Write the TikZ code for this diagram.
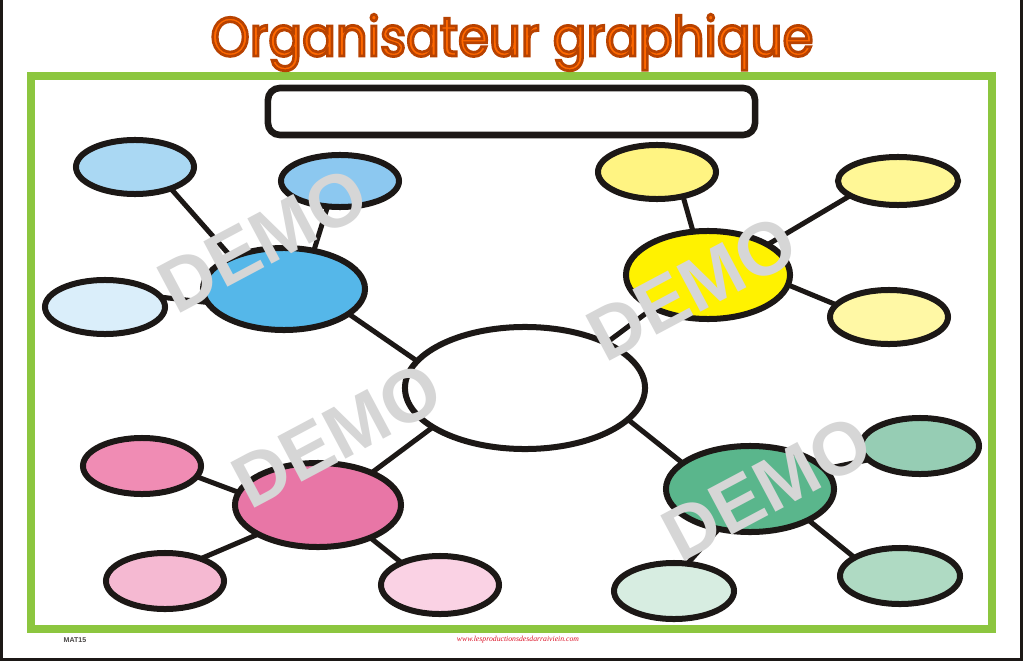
\documentclass[tikz,border=0pt]{standalone}
\usepackage{fontspec}
\usetikzlibrary{shapes.geometric,backgrounds}
\newfontfamily\titlefont{Poppins}
\newfontfamily\wmfont{Liberation Sans}
\newfontfamily\smallserif{Liberation Serif}
\definecolor{ink}{RGB}{28,24,22}
\definecolor{framegreen}{RGB}{140,198,63}
\definecolor{titleorange}{RGB}{255,104,0}
\definecolor{wmgray}{RGB}{214,214,214}
\definecolor{urlred}{RGB}{220,20,40}
\definecolor{bluemain}{RGB}{85,183,233}
\definecolor{blueA}{RGB}{170,216,243}
\definecolor{blueB}{RGB}{140,200,240}
\definecolor{blueC}{RGB}{218,238,250}
\definecolor{yelmain}{RGB}{255,242,0}
\definecolor{yelA}{RGB}{255,244,130}
\definecolor{yelB}{RGB}{255,247,150}
\definecolor{yelC}{RGB}{255,248,165}
\definecolor{pinkmain}{RGB}{232,118,166}
\definecolor{pinkA}{RGB}{240,140,180}
\definecolor{pinkB}{RGB}{245,185,210}
\definecolor{pinkC}{RGB}{250,210,228}
\definecolor{grnmain}{RGB}{90,182,140}
\definecolor{grnA}{RGB}{150,205,180}
\definecolor{grnB}{RGB}{175,218,195}
\definecolor{grnC}{RGB}{215,237,225}
\tikzset{
  bub/.style n args={3}{ellipse, draw=ink, line width=0.15cm, fill=#1,
    minimum width=#2*0.05cm, minimum height=#3*0.05cm, inner sep=0pt, outer sep=0pt},
  link/.style={draw=ink, line width=0.125cm},
  wm/.style={text=wmgray, font=\wmfont\bfseries\fontsize{53}{53}\selectfont, rotate=28, inner sep=0pt},
}
\begin{document}
\begin{tikzpicture}[x=0.025cm,y=-0.025cm]
\useasboundingbox (0,0) rectangle (1024,663);
% outer border
\draw[ink, line width=0.075cm] (1.5,0) -- (1.5,659.5) -- (1021,659.5) -- (1021,0);
% green frame
\draw[framegreen, line width=0.19cm] (31,76) rectangle (992,629);
% title
\node[anchor=base, text=titleorange, inner sep=0pt] (title) at (512,56)
  {\scalebox{0.91}[1]{\titlefont\fontsize{39}{39}\selectfont\special{pdf:literal direct 2 Tr 0.72 0.26 0 RG 2 w}Organisateur graphique\special{pdf:literal direct 0 Tr}}};
% top box
\node[draw=ink, fill=white, rounded corners=0.3cm, line width=0.165cm,
  minimum width=12.175cm, minimum height=1.175cm, inner sep=0pt] (topbox) at (511.5,111.5) {};
% central
\node[bub={white}{120}{61}] (c) at (525,388) {};
% blue
\node[bub={bluemain}{81}{41}] (bm) at (284,289) {};
\node[bub={blueA}{59}{27}] (btl) at (135,167) {};
\node[bub={blueB}{59}{26}] (btr) at (340,181) {};
\node[bub={blueC}{60}{27}] (bl) at (105,307) {};
% yellow
\node[bub={yelmain}{82}{44}] (ym) at (708,275) {};
\node[bub={yelA}{59}{27}] (ytl) at (657,172) {};
\node[bub={yelB}{60}{24}] (ytr) at (898,181) {};
\node[bub={yelC}{59}{27}] (ybr) at (889,317) {};
% pink
\node[bub={pinkmain}{83}{42}] (pm) at (318,505) {};
\node[bub={pinkA}{59}{28}] (ptl) at (142,466) {};
\node[bub={pinkB}{59}{28}] (pbl) at (165,581) {};
\node[bub={pinkC}{59}{29}] (pbr) at (440,585) {};
% green
\node[bub={grnmain}{84}{43}] (gm) at (750,489) {};
\node[bub={grnA}{59}{28}] (gtr) at (920,446) {};
\node[bub={grnB}{60}{28}] (gbr) at (900,576) {};
\node[bub={grnC}{60}{28}] (gbl) at (674,591) {};
% connectors
\begin{scope}[on background layer]
\fill[white] (0,0) rectangle (1024,663);
\draw[link] (btl.-31) -- (bm.149);
\draw[link] (btr.244) -- (bm.52);
\draw[link] (bl.10) -- (bm.190);
\draw[link] (bm.-21) -- (c.166);
\draw[link] (ytl.-43) -- (ym.109);
\draw[link] (ytr.197) -- (ym.27);
\draw[link] (ym.-7) -- (ybr.167);
\draw[link] (ym.211) -- (c.29);
\draw[link] (ptl.-11) -- (pm.171);
\draw[link] (pbl.32) -- (pm.206);
\draw[link] (pm.-32) -- (pbr.150);
\draw[link] (pm.31) -- (c.203);
\draw[link] (c.-17) -- (gm.159);
\draw[link] (gm.15) -- (gtr.195);
\draw[link] (gm.-28) -- (gbr.158);
\draw[link] (gm.232) -- (gbl.64);
\end{scope}
% watermarks
\node[wm] (wm1) at (263,240) {DEMO};
\node[wm] (wm2) at (692,288) {DEMO};
\node[wm] (wm3) at (337,435) {DEMO};
\node[wm] (wm4) at (767,488) {DEMO};
% footer
\node[font=\wmfont\bfseries\fontsize{5}{5}\selectfont, text=ink!80, inner sep=0pt] (code) at (75,640) {MAT15};
\node[font=\smallserif\itshape\fontsize{5.5}{5.5}\selectfont, text=urlred, inner sep=0pt] (url) at (518,640) {www.lesproductionsdesdarraiviein.com};
\end{tikzpicture}
\end{document}
